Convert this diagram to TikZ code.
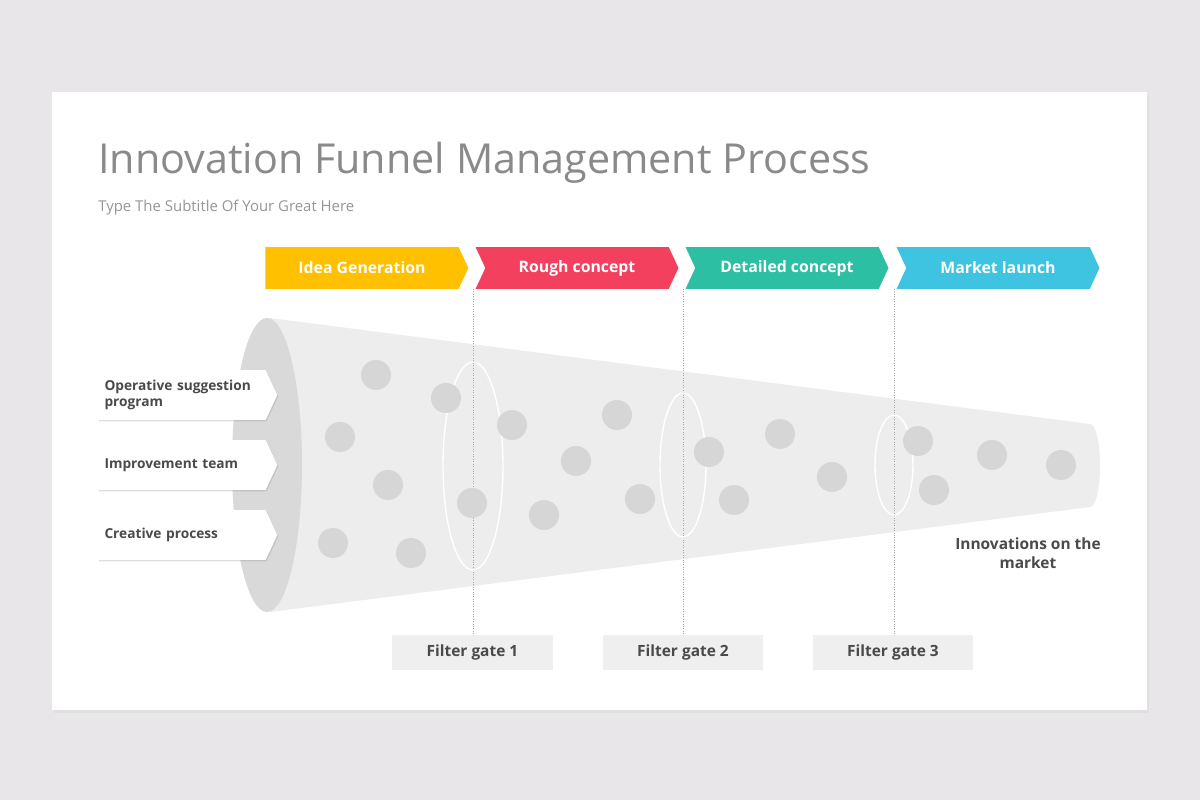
\documentclass[tikz,border=0pt]{standalone}
\usepackage{fontspec}
\setmainfont{Open Sans}
\usetikzlibrary{shapes.symbols,shadows,positioning}
\definecolor{slidebg}{HTML}{E8E6E8}
\definecolor{titlegray}{HTML}{8A8A8A}
\definecolor{textdark}{HTML}{4A4A4A}
\definecolor{funnelfill}{HTML}{EDEDED}
\definecolor{funnelmouth}{HTML}{D9D9D9}
\definecolor{dotgray}{HTML}{D6D6D6}
\definecolor{gatebox}{HTML}{EFEFEF}
\definecolor{cyellow}{HTML}{FFC000}
\definecolor{cred}{HTML}{F2405E}
\definecolor{cteal}{HTML}{2CBFA3}
\definecolor{ccyan}{HTML}{3EC4E0}
\tikzset{
  % styles for the stage chevrons and side tags
       stage/.style = {signal, signal to=east, signal from=west,
                       signal pointer angle=130, minimum width=4.06cm,
                       minimum height=0.84cm, inner sep=0pt, text=white,
                       font=\bfseries\fontsize{9}{11}\selectfont},
      source/.style = {signal, signal to=east, signal pointer angle=130,
                       fill=white, minimum width=3.58cm, minimum height=1cm,
                       text width=3.1cm, align=left, text=textdark,
                       drop shadow={opacity=0.25, shadow xshift=0.5pt, shadow yshift=-0.8pt},
                       font=\bfseries\fontsize{7.8}{9}\selectfont},
        gate/.style = {fill=gatebox, minimum width=3.22cm, minimum height=0.7cm,
                       text=textdark, font=\bfseries\fontsize{8.8}{11}\selectfont},
        idea/.style = {circle, fill=dotgray, minimum size=0.6cm, inner sep=0pt},
     gatering/.style = {draw=white, line width=0.8pt},
}
\begin{document}
\begin{tikzpicture}[x=0.02cm, y=-0.02cm]
  \useasboundingbox (0,0) rectangle (1200,800);
  \fill[slidebg] (0,0) rectangle (1200,800);
  \fill[black!12] (54,95) rectangle (1149,713);
  \fill[white] (52,92) rectangle (1147,710);

  % Title
  \node (title) [anchor=west, text=titlegray, inner sep=0pt,
        font=\fontsize{23.5}{28}\selectfont] at (98,163)
        {Innovation Funnel Management Process};
  \node (subtitle) [anchor=west, text=titlegray!90, inner sep=0pt,
        font=\fontsize{8.5}{10}\selectfont] at (98,208)
        {Type The Subtitle Of Your Great Here};

  % Stage chevrons
  \node (ideaGen)  [stage, fill=cyellow, signal from=nowhere] at (362,268) {Idea Generation};
  \node (rough)    [stage, fill=cred]  at (577,268) {Rough concept};
  \node (detailed) [stage, fill=cteal] at (787,268) {Detailed concept};
  \node (launch)   [stage, fill=ccyan] at (998,268) {Market launch};

  % Funnel body
  \fill[funnelfill] (270,318) -- (1090,424) -- (1090,507) -- (270,612) -- cycle;
  \fill[funnelfill] (1090,465.5) ellipse[x radius=10, y radius=41.5];
  \fill[funnelmouth] (267,465) ellipse[x radius=35, y radius=147];

  % Dotted gate lines
  \foreach \gx in {473, 683, 894}
    \draw[densely dotted, gray!70] (\gx,289) -- (\gx,635);

  % Gate rings
  \draw[gatering] (473,466) ellipse[x radius=30, y radius=104];
  \draw[gatering] (683,465) ellipse[x radius=23, y radius=72];
  \draw[gatering] (894,465) ellipse[x radius=19, y radius=50];

  % Ideas in the funnel
  \foreach \px/\py [count=\i] in {376/375, 446/398, 340/437, 388/485, 333/543,
      411/553, 472/503, 512/425, 617/415, 576/461, 544/515, 640/499, 709/452,
      780/434, 734/500, 832/477, 918/441, 934/490, 992/455, 1061/465}
    \node (idea\i) [idea] at (\px,\py) {};

  % Source tags
  \node (operative)   [source] at (182,395) {Operative suggestion\\program};
  \node (improvement) [source] at (182,465) {Improvement team};
  \node (creative)    [source] at (182,535) {Creative process};

  % Filter gates
  \node (gate1) [gate] at (472.5,652.5) {Filter gate 1};
  \node (gate2) [gate] at (683,652.5) {Filter gate 2};
  \node (gate3) [gate] at (893,652.5) {Filter gate 3};

  \node (market) [align=center, text=textdark,
        font=\bfseries\fontsize{8.8}{10.5}\selectfont] at (1028,553)
        {Innovations on the\\market};
\end{tikzpicture}
\end{document}
